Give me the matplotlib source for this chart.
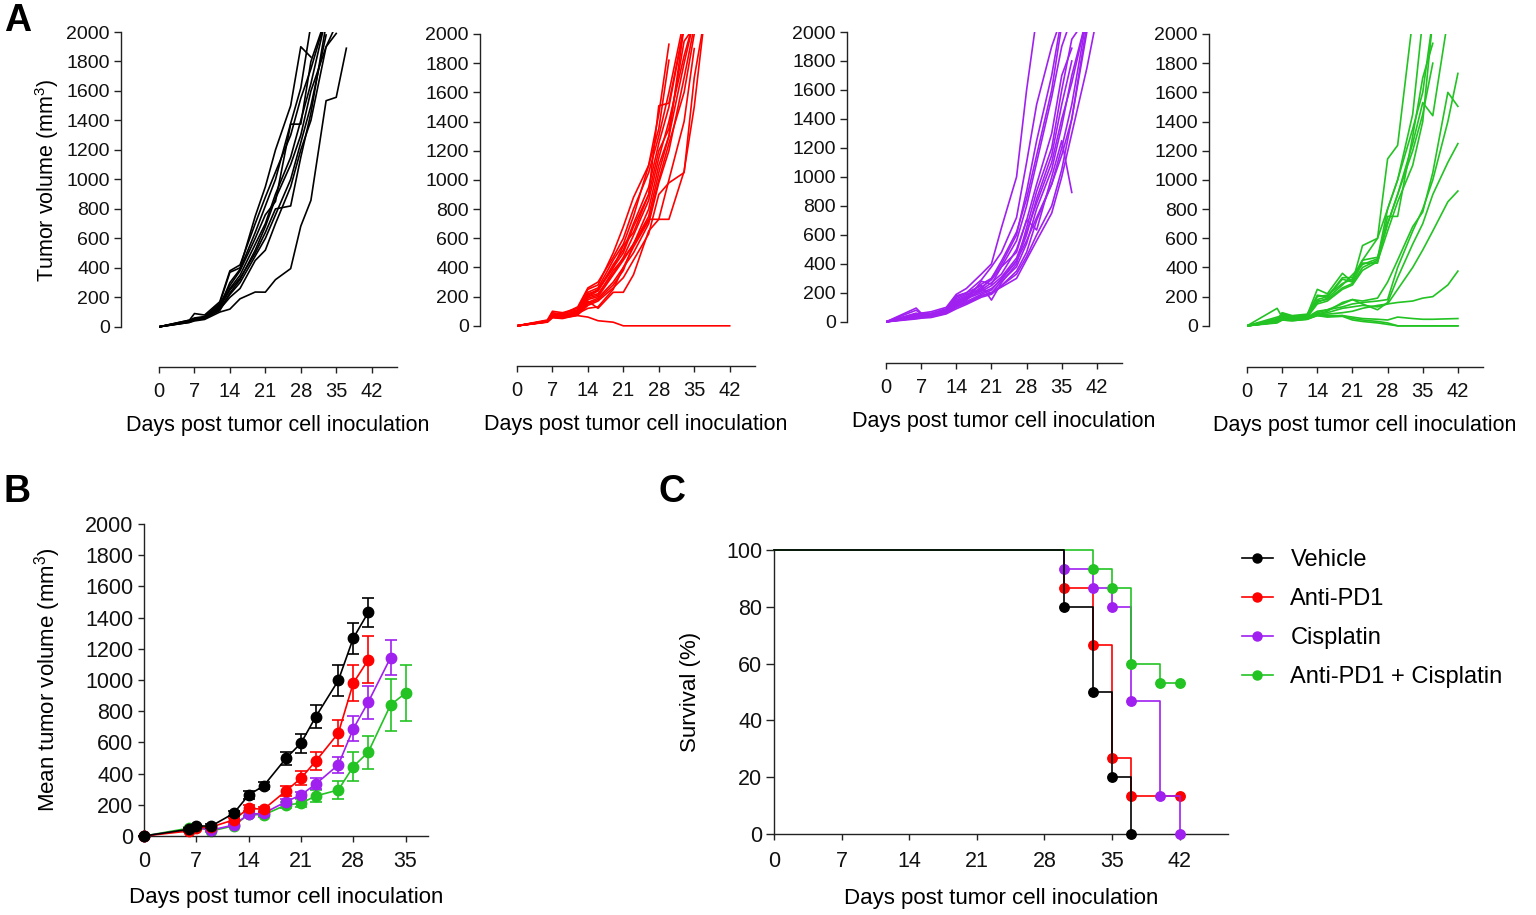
import matplotlib
matplotlib.use("Agg")
import matplotlib.pyplot as plt

plt.rcParams['font.family'] = ['Liberation Sans', 'DejaVu Sans']
plt.rcParams['mathtext.fontset'] = 'custom'
plt.rcParams['mathtext.rm'] = 'Liberation Sans'
plt.rcParams['mathtext.it'] = 'Liberation Sans'

# ---------------- data ----------------
group_names = ["Vehicle", "Anti-PD1", "Cisplatin", "Anti-PD1 + Cisplatin"]
group_colors = ["#000000", "#FF0000", "#A020F0", "#22C322"]

# Panel A: individual tumour growth curves (values at the measurement days)
days_a = [0, 6, 7, 9, 12, 14, 16, 19, 21, 23, 26, 28, 30, 33, 35, 37, 40, 42]

vehicle_curves = [
    [0, 45, 60, 70, 160, 370, 400, 750, 950, 1200, 1500, 1900, 1830],
    [0, 40, 55, 65, 140, 300, 390, 640, 820, 1000, 1380, 1620, 2050],
    [0, 35, 50, 60, 150, 280, 380, 600, 760, 850, 1375, 1375, 1800, 2100],
    [0, 40, 55, 62, 130, 250, 330, 500, 640, 800, 820, 1150, 1450, 2050],
    [0, 30, 45, 55, 120, 220, 300, 480, 600, 760, 1000, 1250, 1500, 1980],
    [0, 35, 50, 60, 120, 200, 260, 450, 520, 700, 950, 1200, 1400, 1900, 1990],
    [0, 30, 40, 50, 100, 120, 190, 236, 235, 320, 395, 683, 858, 1534, 1557, 1890],
    [0, 45, 90, 80, 170, 380, 420, 700, 880, 1050, 1300, 1550, 1750, 2100],
    [0, 38, 52, 65, 140, 260, 350, 560, 700, 900, 1150, 1400, 1650, 2100],
    [0, 33, 48, 58, 110, 230, 320, 520, 680, 870, 1100, 1300, 1600, 1900, 2050],
]

antipd1_curves = [
    [0, 30, 60, 55, 70, 60, 35, 25, 0, 0, 0, 0, 0, 0, 0, 0, 0, 0],
    [0, 40, 100, 90, 120, 250, 280, 500, 680, 880, 1100, 1450, 1930],
    [0, 35, 80, 85, 110, 230, 260, 450, 560, 750, 1100, 1350, 1820],
    [0, 30, 70, 75, 100, 200, 240, 400, 550, 640, 900, 1508, 1526, 2050],
    [0, 32, 75, 70, 90, 180, 200, 350, 450, 560, 800, 1100, 1300, 2050],
    [0, 28, 65, 60, 80, 160, 190, 300, 400, 500, 700, 980, 1200, 1700, 2050],
    [0, 30, 70, 65, 85, 170, 120, 230, 230, 350, 650, 730, 730, 1060, 1500, 2100],
    [0, 30, 60, 58, 95, 190, 210, 380, 460, 560, 750, 1050, 1300, 1800, 2100],
    [0, 25, 55, 50, 75, 140, 170, 260, 330, 450, 630, 900, 980, 1050, 1700, 2100],
    [0, 35, 90, 80, 130, 260, 300, 470, 600, 800, 1050, 1300, 1600, 2100],
    [0, 28, 62, 58, 88, 150, 180, 280, 380, 560, 730, 730, 1000, 1400, 1900],
    [0, 33, 70, 66, 100, 220, 240, 420, 520, 700, 950, 1250, 1500, 2050],
    [0, 30, 65, 60, 90, 200, 220, 360, 470, 620, 860, 1150, 1400, 1850, 2100],
    [0, 27, 60, 55, 85, 120, 130, 250, 400, 540, 720, 1000, 1250, 1600, 2000],
    [0, 35, 80, 70, 105, 210, 250, 400, 500, 680, 900, 1200, 1350, 1950, 2050],
]

cisplatin_curves = [
    [0, 95, 60, 70, 100, 190, 230, 330, 400, 650, 1000, 1600, 2100],
    [0, 80, 55, 60, 90, 170, 200, 290, 380, 480, 720, 1100, 1500, 1900, 2100],
    [0, 60, 50, 55, 80, 150, 180, 260, 300, 400, 600, 900, 1250, 1700, 2100],
    [0, 50, 45, 50, 75, 140, 170, 240, 290, 380, 560, 800, 1100, 1550, 1900, 2100],
    [0, 40, 40, 45, 70, 130, 160, 220, 270, 330, 500, 700, 950, 1300, 1700, 1888],
    [0, 35, 55, 40, 60, 120, 150, 280, 260, 380, 480, 704, 634, 1000, 1250, 893],
    [0, 30, 35, 40, 65, 110, 140, 190, 220, 300, 420, 600, 850, 1150, 1500, 1800],
    [0, 25, 30, 35, 60, 100, 130, 180, 200, 280, 380, 540, 780, 1050, 1350, 1700, 2100],
    [0, 20, 25, 30, 55, 90, 120, 170, 190, 250, 350, 480, 700, 950, 1200, 1500, 2100],
    [0, 45, 60, 55, 85, 180, 200, 250, 150, 270, 400, 650, 900, 1200, 1600, 1950, 2100],
    [0, 55, 50, 50, 80, 160, 190, 220, 200, 250, 330, 450, 600, 800, 1050, 1400, 2000],
    [0, 30, 40, 45, 70, 130, 160, 200, 230, 290, 420, 560, 720, 950, 1150, 1400, 2050],
    [0, 35, 45, 50, 75, 140, 170, 210, 250, 310, 440, 620, 820, 1100, 1400, 1650, 2100],
    [0, 40, 50, 45, 70, 120, 150, 230, 300, 420, 620, 850, 1150, 1600, 2050],
    [0, 28, 35, 40, 60, 110, 130, 180, 200, 240, 300, 430, 560, 750, 1000, 1300, 1750, 2100],
]

combo_curves = [
    [0, 40, 90, 70, 80, 200, 210, 290, 320, 450, 600, 1144, 1237, 2100],
    [0, 35, 85, 65, 75, 250, 220, 360, 300, 550, 600, 800, 1000, 1450, 2100],
    [0, 30, 80, 60, 70, 210, 200, 330, 330, 450, 470, 700, 900, 1250, 1530, 1440, 2100],
    [0, 60, 70, 55, 65, 180, 200, 320, 300, 430, 430, 750, 750, 1300, 1700, 1936],
    [0, 45, 75, 60, 70, 160, 190, 280, 350, 420, 460, 800, 1000, 1350, 1600, 2100],
    [0, 120, 60, 55, 65, 170, 180, 260, 290, 400, 450, 700, 900, 1200, 1450, 1800],
    [0, 50, 65, 50, 60, 150, 170, 250, 280, 380, 440, 650, 850, 1100, 1400, 2100],
    [0, 30, 60, 50, 60, 100, 110, 130, 150, 160, 170, 180, 400, 650, 800, 1000, 1400, 1730],
    [0, 35, 55, 45, 55, 90, 110, 150, 180, 170, 190, 300, 450, 680, 780, 1050, 1600, 1504],
    [0, 28, 50, 40, 50, 80, 100, 160, 180, 150, 110, 160, 330, 560, 700, 900, 1120, 1249],
    [0, 25, 45, 40, 50, 80, 90, 120, 130, 140, 130, 150, 250, 400, 520, 650, 850, 924],
    [0, 20, 40, 35, 45, 75, 80, 90, 100, 120, 140, 150, 160, 170, 190, 200, 280, 375],
    [0, 25, 45, 40, 50, 70, 65, 70, 60, 50, 45, 40, 60, 50, 45, 45, 48, 50],
    [0, 30, 50, 45, 55, 80, 70, 70, 50, 40, 30, 20, 0, 0, 0, 0, 0, 0],
    [0, 25, 40, 35, 45, 70, 60, 65, 40, 30, 20, 10, 0, 0, 0, 0, 0, 0],
]

# Panel B: mean tumour volume +/- SEM
days_b = [0, 6, 7, 9, 12, 14, 16, 19, 21, 23, 26, 28, 30, 33, 35]
vehicle_mean = [0, 43, 64, 64, 145, 263, 321, 498, 595, 766, 997, 1268, 1433]
vehicle_sem = [0, 8, 8, 10, 15, 25, 22, 40, 60, 75, 100, 100, 95]
antipd1_mean = [0, 32, 53, 58, 103, 178, 171, 289, 370, 481, 659, 980, 1129]
antipd1_sem = [0, 6, 6, 8, 12, 18, 18, 30, 45, 60, 85, 115, 150]
cisplatin_mean = [0, 40, 55, 38, 70, 139, 145, 220, 263, 334, 456, 687, 858, 1144]
cisplatin_sem = [0, 6, 6, 6, 8, 12, 14, 20, 22, 35, 50, 80, 105, 110]
combo_mean = [0, 50, 58, 32, 65, 139, 135, 199, 210, 257, 295, 445, 537, 841, 916]
combo_sem = [0, 8, 8, 6, 8, 12, 14, 18, 25, 40, 55, 95, 105, 165, 180]

# Panel C: Kaplan-Meier survival
vehicle_surv_days = [0, 30, 33, 35, 37]
vehicle_surv = [100, 80, 50, 20, 0]
antipd1_surv_days = [0, 30, 33, 35, 37, 42]
antipd1_surv = [100, 86.67, 66.67, 26.67, 13.33, 13.33]
cisplatin_surv_days = [0, 30, 33, 35, 37, 40, 42]
cisplatin_surv = [100, 93.33, 86.67, 80, 46.67, 13.33, 0]
combo_surv_days = [0, 33, 35, 37, 40, 42]
combo_surv = [100, 93.33, 86.67, 60, 53.33, 53.33]

day_ticks = [0, 7, 14, 21, 28, 35, 42]
vol_ticks = list(range(0, 2001, 200))
surv_ticks = [0, 20, 40, 60, 80, 100]
xlabel_text = "Days post tumor cell inoculation"

# ---------------- figure ----------------
W, H = 1536, 915
fig = plt.figure(figsize=(W / 100, H / 100), dpi=100)
SPINE = "#222222"


def px_axes(x0, y0, x1, y1):
    return fig.add_axes([x0 / W, 1 - y1 / H, (x1 - x0) / W, (y1 - y0) / H])


def style(ax, tickfs):
    for s in ("top", "right"):
        ax.spines[s].set_visible(False)
    for s in ("left", "bottom"):
        ax.spines[s].set_linewidth(1.0)
        ax.spines[s].set_color(SPINE)
    ax.tick_params(axis="both", width=1.0, color=SPINE, labelsize=tickfs,
                   labelcolor="#111111", direction="out")
    ax.patch.set_alpha(0)


a_boxes = [(159, 32, 397, 328, 38, 39),
           (517, 34, 755, 327, 37, 39),
           (886, 32, 1122, 323, 39, 40),
           (1247, 34, 1483, 327, 38, 40)]
a_groups = [vehicle_curves, antipd1_curves, cisplatin_curves, combo_curves]

for i, ((x0, y0, x1, y1, offl, offb), curves) in enumerate(zip(a_boxes, a_groups)):
    ax = px_axes(x0, y0, x1, y1)
    for c in curves:
        ax.plot(days_a[:len(c)], c, color=group_colors[i], lw=1.2)
    ax.set_xlim(0, 47)
    ax.set_ylim(-8, 2000)
    style(ax, 14)
    ax.spines["left"].set_position(("outward", offl * 0.72))
    ax.spines["bottom"].set_position(("outward", offb * 0.72))
    ax.spines["left"].set_bounds(0, 2000)
    ax.spines["bottom"].set_bounds(0, 47)
    ax.set_xticks(day_ticks)
    ax.set_yticks(vol_ticks)
    ax.tick_params(axis="y", length=5, pad=3)
    ax.tick_params(axis="x", length=4.5, pad=6, labelsize=14.5)
    ax.set_xlabel(xlabel_text, fontsize=15.5, labelpad=10.5)
    if i == 0:
        ax.set_ylabel("Tumor volume (mm$^{3}$)", fontsize=15.5, labelpad=4)

# Panel B
axb = px_axes(144, 524, 428, 836)
b_means = [vehicle_mean, antipd1_mean, cisplatin_mean, combo_mean]
b_sems = [vehicle_sem, antipd1_sem, cisplatin_sem, combo_sem]
b_z = [5, 4, 3, 2]
for i in range(4):
    m = b_means[i]
    axb.errorbar(days_b[:len(m)], m, yerr=b_sems[i], color=group_colors[i],
                 lw=1.2, marker="o", ms=7.5, capsize=4.5, elinewidth=1.2,
                 capthick=1.2, clip_on=False, zorder=b_z[i])
axb.set_xlim(0, 38)
axb.set_ylim(0, 2000)
style(axb, 15.5)
axb.set_xticks([0, 7, 14, 21, 28, 35])
axb.set_yticks(vol_ticks)
axb.tick_params(axis="y", length=4.5, pad=3)
axb.tick_params(axis="x", length=4.5, pad=6)
axb.set_xlabel(xlabel_text, fontsize=16, labelpad=11)
axb.set_ylabel("Mean tumor volume (mm$^{3}$)", fontsize=16, labelpad=16)

# Panel C
axc = px_axes(774, 550, 1228, 834)
c_days = [vehicle_surv_days, antipd1_surv_days, cisplatin_surv_days, combo_surv_days]
c_vals = [vehicle_surv, antipd1_surv, cisplatin_surv, combo_surv]
c_z = [6, 3, 4, 5]
handles = []
for i in range(4):
    d, v = c_days[i], c_vals[i]
    axc.step(d, v, where="post", color=group_colors[i], lw=1.2, zorder=c_z[i],
             clip_on=False)
    axc.plot(d[1:], v[1:], ls="none", marker="o", ms=6.8, color=group_colors[i],
             zorder=c_z[i] + 0.5, clip_on=False)
    h, = axc.plot([], [], color=group_colors[i], lw=1.2, marker="o", ms=6.5)
    handles.append(h)
axc.set_xlim(0, 47)
axc.set_ylim(0, 100)
style(axc, 15.5)
axc.set_xticks(day_ticks)
axc.set_yticks(surv_ticks)
axc.tick_params(axis="y", length=5.5, pad=3)
axc.tick_params(axis="x", length=4.5, pad=8)
axc.set_xlabel(xlabel_text, fontsize=16, labelpad=11)
axc.set_ylabel("Survival (%)", fontsize=16, labelpad=18)

fig.legend(handles, group_names, loc="upper left",
           bbox_to_anchor=(1242 / W, 1 - 549 / H), frameon=False,
           fontsize=17, handlelength=1.3, handletextpad=0.75,
           labelspacing=0.72, borderpad=0, borderaxespad=0)

# panel letters
fig.text(4 / W, 1 - 3 / H, "A", fontsize=27, fontweight="bold", va="top", ha="left")
fig.text(4 / W, 1 - 474 / H, "B", fontsize=27, fontweight="bold", va="top", ha="left")
fig.text(658 / W, 1 - 474 / H, "C", fontsize=27, fontweight="bold", va="top", ha="left")

fig.savefig("out.png", dpi=100)
